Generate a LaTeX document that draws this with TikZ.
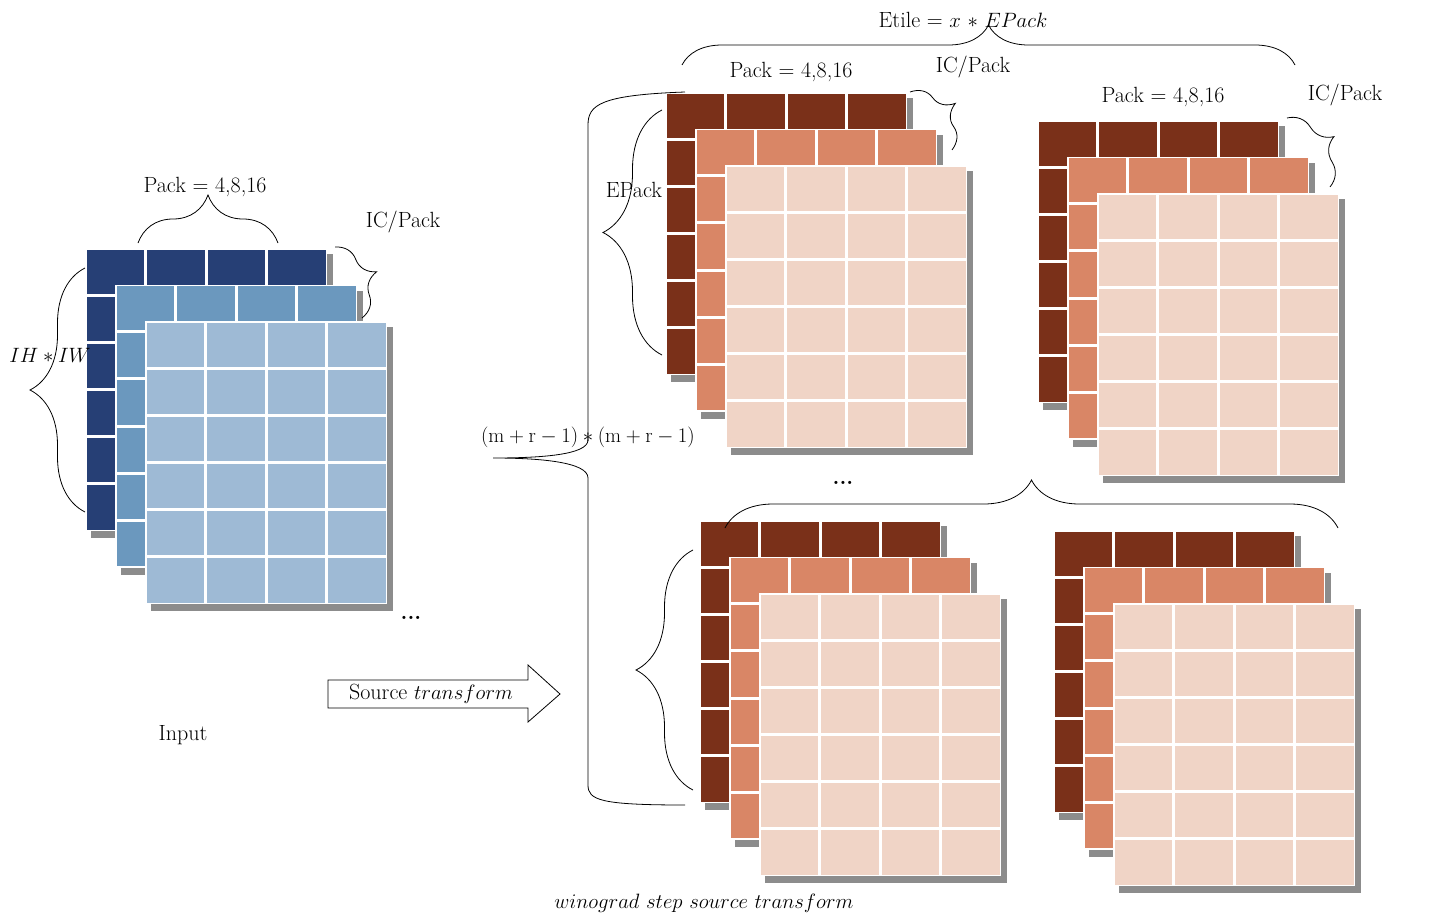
\documentclass[tikz,border=0pt]{standalone}
\usetikzlibrary{decorations.pathreplacing}
\definecolor{bA}{HTML}{263F75}\definecolor{bB}{HTML}{6B98BE}\definecolor{bC}{HTML}{9EBAD5}
\definecolor{rA}{HTML}{7A3019}\definecolor{rB}{HTML}{D98666}\definecolor{rC}{HTML}{F0D4C6}
\definecolor{shd}{HTML}{8C8C8C}
\newcommand\mylayer[3]{\begin{scope}[shift={(#1,#2)}]
\fill[shd] (6,6) rectangle (248,290);
\fill[white] (0,0) rectangle (242,283);
\foreach \i in {0,...,3}{\foreach \j in {0,...,5}{\fill[#3] (\i*60.5+1.5,\j*47.17+1.5) rectangle +(57.5,44.2);}}
\end{scope}}
\newcommand\mystack[5]{\mylayer{#1}{#2}{#3}\mylayer{#1+30}{#2+36.5}{#4}\mylayer{#1+60}{#2+73}{#5}}
\tikzset{br/.style={decorate,decoration={brace,amplitude=#1},thick},
lab/.style={font=\fontsize{22}{26}\selectfont,inner sep=1pt}}
\begin{document}
\begin{tikzpicture}[x=1pt,y=-1pt]
\useasboundingbox (0,0) rectangle (1440,921);
\mystack{85}{248}{bA}{bB}{bC}
\mystack{665}{92}{rA}{rB}{rC}
\mystack{1037}{120}{rA}{rB}{rC}
\mystack{699}{520}{rA}{rB}{rC}
\mystack{1053}{530}{rA}{rB}{rC}
% braces
\draw[br=48] (138,243) -- (278,243);
\draw[br=55] (85,512) -- (85,268);
\draw[br=30] (335,247) -- (362,318);
\draw[br=40] (682,65) -- (1295,65);
\draw[br=30] (910,92) -- (952,150);
\draw[br=30] (1287,118) -- (1330,187);
\draw[br=59] (662,355) -- (662,110);
\draw[br=48,decoration={aspect=0.5}] (725,528) -- (1338,528);
\draw[br=57] (693,790) -- (693,550);
\draw[thick] (685,92) .. controls (600,95) and (588,105) .. (588,125) -- (588,440) .. controls (588,455) and (540,458) .. (493,458) .. controls (540,458) and (588,462) .. (588,478) -- (588,785) .. controls (588,800) and (600,805) .. (685,805);
% labels
\node[lab] (p1) at (205,187) {Pack = 4,8,16};
\node[lab] (ic1) at (403,222) {IC/Pack};
\node[lab] (ih) at (50,355) {$IH\ast IW$};
\node[lab] (et) at (963,20) {Etile = $x\ \ast$ $EPack$};
\node[lab] (p2) at (791,72) {Pack = 4,8,16};
\node[lab] (ic2) at (973,67) {IC/Pack};
\node[lab] (p3) at (1163,97) {Pack = 4,8,16};
\node[lab] (ic3) at (1345,95) {IC/Pack};
\node[lab] (ep) at (634,190) {EPack};
\node[lab] (mr) at (588,437) {$(\mathrm{m}+\mathrm{r}-1)\ast(\mathrm{m}+\mathrm{r}-1)$};
\node[lab] (d1) at (411,618) {\textbf{...}};
\node[lab] (d2) at (843,483) {\textbf{...}};
\node[lab] (in) at (183,735) {Input};
\node[lab] (cap) at (704,903) {$winograd\ step\ source\ transform$};
\draw[thick,fill=white] (328,680) -- (528,680) -- (528,665) -- (560,694) -- (528,722) -- (528,708) -- (328,708) -- cycle;
\node[lab] (st) at (431,694) {Source $transform$};
\end{tikzpicture}
\end{document}
